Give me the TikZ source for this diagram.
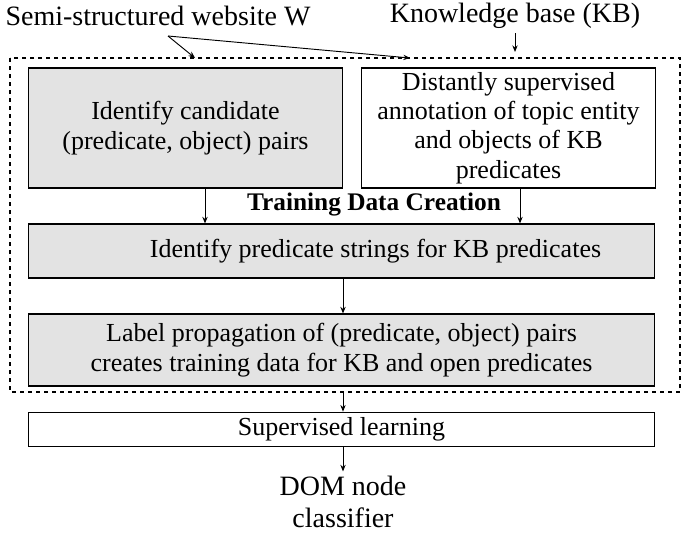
\documentclass[tikz,border=0pt]{standalone}
\usepackage{fontspec}
\setmainfont{Liberation Serif}
\usetikzlibrary{arrows.meta}
\begin{document}
\begin{tikzpicture}[x=0.75pt,y=-0.75pt,
 box/.style={draw,line width=0.8pt,inner sep=0pt,align=center,font=\fontsize{19.5}{22}\selectfont},
 gbox/.style={box,fill=gray!22},
 arr/.style={-{Stealth[length=5pt,width=4pt]},line width=0.7pt},
 lbl/.style={font=\fontsize{21}{24}\selectfont,align=center}]
\useasboundingbox (0,0) rectangle (686,537);
\node[lbl] (w) at (158,16) {Semi-structured website W};
\node[lbl] (kb) at (515,16) {Knowledge base (KB)};
\draw[dashed,line width=0.8pt] (10,58) rectangle (680,392);
\coordinate (dl) at (195,58); \coordinate (dr) at (410,58); \coordinate (dk) at (515,52);
\node[gbox,minimum width=236pt,minimum height=90pt] (b1) at (185.5,128) {Identify candidate\\(predicate, object) pairs};
\node[box,minimum width=220pt,minimum height=90pt] (b2) at (508.5,128) {Distantly supervised\\annotation of topic entity\\and objects of KB\\predicates};
\node[font=\fontsize{19}{22}\selectfont\bfseries] (t) at (374,204) {Training Data Creation};
\node[gbox,minimum width=470pt,minimum height=40.5pt] (b3) at (341.5,251) {\hspace*{51pt}Identify predicate strings for KB predicates};
\node[gbox,minimum width=470pt,minimum height=54pt] (b4) at (341.5,350) {Label propagation of (predicate, object) pairs\\creates training data for KB and open predicates};
\node[box,minimum width=470pt,minimum height=26pt] (b5) at (341.5,429.5) {Supervised learning};
\node[lbl] (dom) at (343,502) {DOM node\\classifier};
\draw[arr] (168,36) -- (dl);
\draw[arr] (168,36) -- (dr);
\draw[arr] (kb.south) -- (dk);
\draw[arr] (b1.south -| 205,0) -- (b3.north -| 205,0);
\draw[arr] (b2.south -| 520,0) -- (b3.north -| 520,0);
\draw[arr] (b3.south -| 343,0) -- (b4.north -| 343,0);
\coordinate (db) at (343,392);
\draw[arr] (db) -- (b5.north -| 343,0);
\draw[arr] (b5.south -| 343,0) -- (dom.north);
\end{tikzpicture}
\end{document}
